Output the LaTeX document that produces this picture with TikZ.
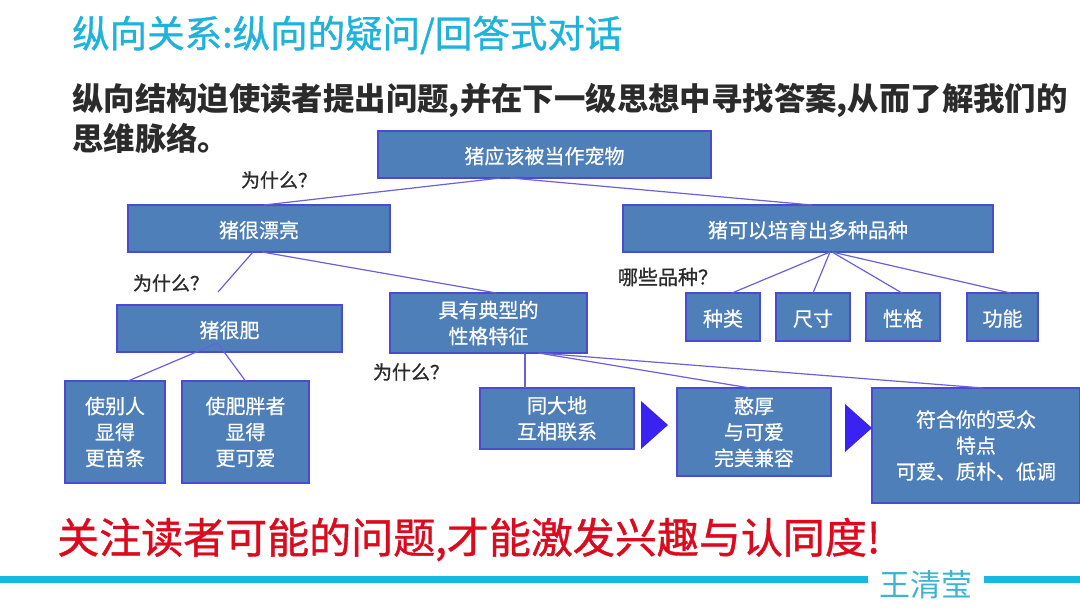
\documentclass[tikz,border=0pt]{standalone}
\usepackage{fontspec}
\setmainfont{Noto Sans CJK SC}
\newfontfamily\lightheavy{Noto Sans CJK SC}[FakeBold=0.5]
\newfontfamily\midheavy{Noto Sans CJK SC}[FakeBold=1]
\tikzset{
  box/.style={draw=boxline,line width=1.2pt,fill=boxfill,text=white,inner sep=0pt,outer sep=0pt,align=center,font=\lightheavy\fontsize{20}{26}\selectfont,execute at begin node={\rule{0pt}{20pt}}},
  link/.style={draw=linkblue,line width=1.2pt},
  why/.style={text=labeldark,inner sep=0pt,font=\midheavy\fontsize{19}{23}\selectfont},
  heading/.style={inner sep=0pt,anchor=west,font=\midheavy\fontsize{37.5}{44}\selectfont,text=titleblue},
  para/.style={inner sep=0pt,anchor=west,align=left,text=labeldark,font=\bfseries\fontsize{31.4}{40}\selectfont},
  callout/.style={inner sep=0pt,anchor=west,text=calloutred,font=\midheavy\fontsize{42}{50}\selectfont},
  author/.style={inner sep=0pt,text=authorblue,font=\fontsize{31}{36}\selectfont},
  bar/.style={fill=barblue,draw=none},
  tri/.style={fill=triblue,draw=none}
}
\definecolor{boxline}{HTML}{4B4BD2}
\definecolor{boxfill}{HTML}{4F7FB8}
\definecolor{linkblue}{HTML}{6A60DA}
\definecolor{labeldark}{HTML}{2B2B2B}
\definecolor{titleblue}{HTML}{1FB2DC}
\definecolor{calloutred}{HTML}{DC0A1E}
\definecolor{authorblue}{HTML}{3FB4D0}
\definecolor{barblue}{HTML}{16B8E4}
\definecolor{triblue}{HTML}{3A22F0}
\begin{document}
\begin{tikzpicture}[x=1pt,y=-1pt]
\useasboundingbox (0,0) rectangle (1080,608);
\node[heading] (title) at (72,35) {纵向关系:纵向的疑问/回答式对话};
\node[para] (lead) at (72,118) {纵向结构迫使读者提出问题,并在下一级思想中寻找答案,从而了解我们的\\思维脉络。};
\node[box,minimum width=333pt,minimum height=47pt] (root) at (544.5,154.5) {猪应该被当作宠物};
\node[box,minimum width=262pt,minimum height=47pt] (pretty) at (259,228.5) {猪很漂亮};
\node[box,minimum width=370pt,minimum height=47pt] (breeds) at (808,228.5) {猪可以培育出多种品种};
\node[box,minimum width=225pt,minimum height=47pt] (fat) at (229.5,328.5) {猪很肥};
\node[box,minimum width=197pt,minimum height=60pt] (trait) at (488.5,323) {具有典型的\\性格特征};
\node[box,minimum width=74pt,minimum height=48pt] (kind) at (723,317) {种类};
\node[box,minimum width=74pt,minimum height=48pt] (size) at (813,317) {尺寸};
\node[box,minimum width=74pt,minimum height=48pt] (char) at (903,317) {性格};
\node[box,minimum width=71pt,minimum height=48pt] (func) at (1002.5,317) {功能};
\node[box,minimum width=100pt,minimum height=102pt] (slim) at (115,432) {使别人\\显得\\更苗条};
\node[box,minimum width=127pt,minimum height=102pt] (cute) at (245.5,432) {使肥胖者\\显得\\更可爱};
\node[box,minimum width=154pt,minimum height=61pt] (earth) at (557,418.5) {同大地\\互相联系};
\node[box,minimum width=154pt,minimum height=88pt] (honest) at (754,432) {憨厚\\与可爱\\完美兼容};
\node[box,minimum width=208pt,minimum height=115pt] (fit) at (976,445.5) {符合你的受众\\特点\\可爱、质朴、低调};
\node[why] (q1) at (279,180) {为什么？};
\node[why] (q2) at (171,283) {为什么？};
\node[why] (q3) at (411,372) {为什么？};
\node[why,font=\midheavy\fontsize{20}{24}\selectfont] (q4) at (668,277) {哪些品种？};
\coordinate (stub) at (218,292);
\draw[link] ([xshift=-44pt]root.south) -- ([xshift=5pt]pretty.north);
\draw[link] ([xshift=-34pt]root.south) -- ([xshift=4pt]breeds.north);
\draw[link] ([xshift=-6pt]pretty.south) -- (stub);
\draw[link] ([xshift=3pt]pretty.south) -- ([xshift=8pt]trait.north);
\draw[link] ([xshift=-12pt,yshift=9pt]fat.south) -- ([xshift=13pt]slim.north);
\draw[link] ([xshift=-12pt,yshift=9pt]fat.south) -- (cute.north);
\draw[link] ([xshift=22pt]breeds.south) -- ([xshift=9pt]kind.north);
\draw[link] ([xshift=22pt]breeds.south) -- (size.north);
\draw[link] ([xshift=24pt]breeds.south) -- ([xshift=-1pt]char.north);
\draw[link] ([xshift=24pt]breeds.south) -- ([xshift=8pt]func.north);
\draw[link] ([xshift=36.5pt]trait.south) -- ([xshift=-32pt]earth.north);
\draw[link] ([xshift=50pt]trait.south) -- ([xshift=-4pt]honest.north);
\draw[link] ([xshift=50pt]trait.south) -- ([xshift=7pt]fit.north);
\path[tri] (641,401) -- (668,425) -- (641,449) -- cycle;
\path[tri] (845,404) -- (872,428) -- (845,452) -- cycle;
\node[callout] (call) at (57,539.5) {关注读者可能的问题,才能激发兴趣与认同度!};
\path[bar] (0,576) rectangle (868,583);
\path[bar] (984,576) rectangle (1080,583);
\node[author] (name) at (926,585) {王清莹};
\end{tikzpicture}
\end{document}
